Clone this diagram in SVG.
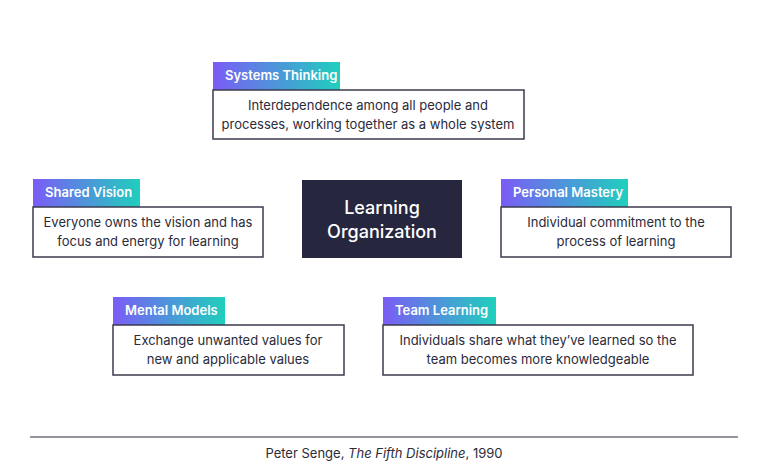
<svg xmlns="http://www.w3.org/2000/svg" width="768" height="470" viewBox="0 0 768 470">
<defs>
<linearGradient id="g" x1="0" y1="0" x2="1" y2="0"><stop offset="0" stop-color="#7b5cf6"/><stop offset="1" stop-color="#1fcfbd"/></linearGradient>
<style>
.tag{fill:url(#g)}
.box{fill:#fff;stroke:#3b3b4d;stroke-width:1.5}
.t{font-family:Inter,"Noto Sans",sans-serif;font-size:13px;fill:#fff;font-weight:600}
.b{font-family:Inter,"Noto Sans",sans-serif;font-size:13px;fill:#2b2b3a;text-anchor:middle}
</style>
</defs>
<rect width="768" height="470" fill="#fff"/>
<g id="systems"><rect class="tag" x="213" y="62" width="127" height="28"/><text class="t" x="225" y="80">Systems Thinking</text><rect class="box" x="213" y="90" width="311" height="49"/><text class="b" x="368" y="110">Interdependence among all people and</text><text class="b" x="368" y="129">processes, working together as a whole system</text></g>
<g id="shared"><rect class="tag" x="33" y="179" width="107" height="28"/><text class="t" x="45" y="197">Shared Vision</text><rect class="box" x="33" y="207" width="230" height="50"/><text class="b" x="148" y="227">Everyone owns the vision and has</text><text class="b" x="148" y="246">focus and energy for learning</text></g>
<g id="center"><rect x="302" y="180" width="160" height="78" fill="#27263f"/><text x="382" y="214" text-anchor="middle" font-family="Inter,'Noto Sans',sans-serif" font-size="18" font-weight="500" fill="#fff">Learning</text><text x="382" y="238" text-anchor="middle" font-family="Inter,'Noto Sans',sans-serif" font-size="18" font-weight="500" fill="#fff">Organization</text></g>
<g id="personal"><rect class="tag" x="501" y="179" width="127" height="28"/><text class="t" x="513" y="197">Personal Mastery</text><rect class="box" x="501" y="207" width="230" height="50"/><text class="b" x="616" y="227">Individual commitment to the</text><text class="b" x="616" y="246">process of learning</text></g>
<g id="mental"><rect class="tag" x="113" y="297" width="112" height="28"/><text class="t" x="125" y="315">Mental Models</text><rect class="box" x="113" y="325" width="231" height="50"/><text class="b" x="228" y="345">Exchange unwanted values for</text><text class="b" x="228" y="364">new and applicable values</text></g>
<g id="team"><rect class="tag" x="383" y="297" width="113" height="28"/><text class="t" x="395" y="315">Team Learning</text><rect class="box" x="383" y="325" width="310" height="50"/><text class="b" x="538" y="345">Individuals share what they’ve learned so the</text><text class="b" x="538" y="364">team becomes more knowledgeable</text></g>
<g id="connectors"></g>
<line x1="30" y1="437" x2="738" y2="437" stroke="#2b2b3a" stroke-width="1.2"/>
<text class="b" x="384" y="458">Peter Senge, <tspan font-style="italic">The Fifth Discipline</tspan>, 1990</text>
</svg>
